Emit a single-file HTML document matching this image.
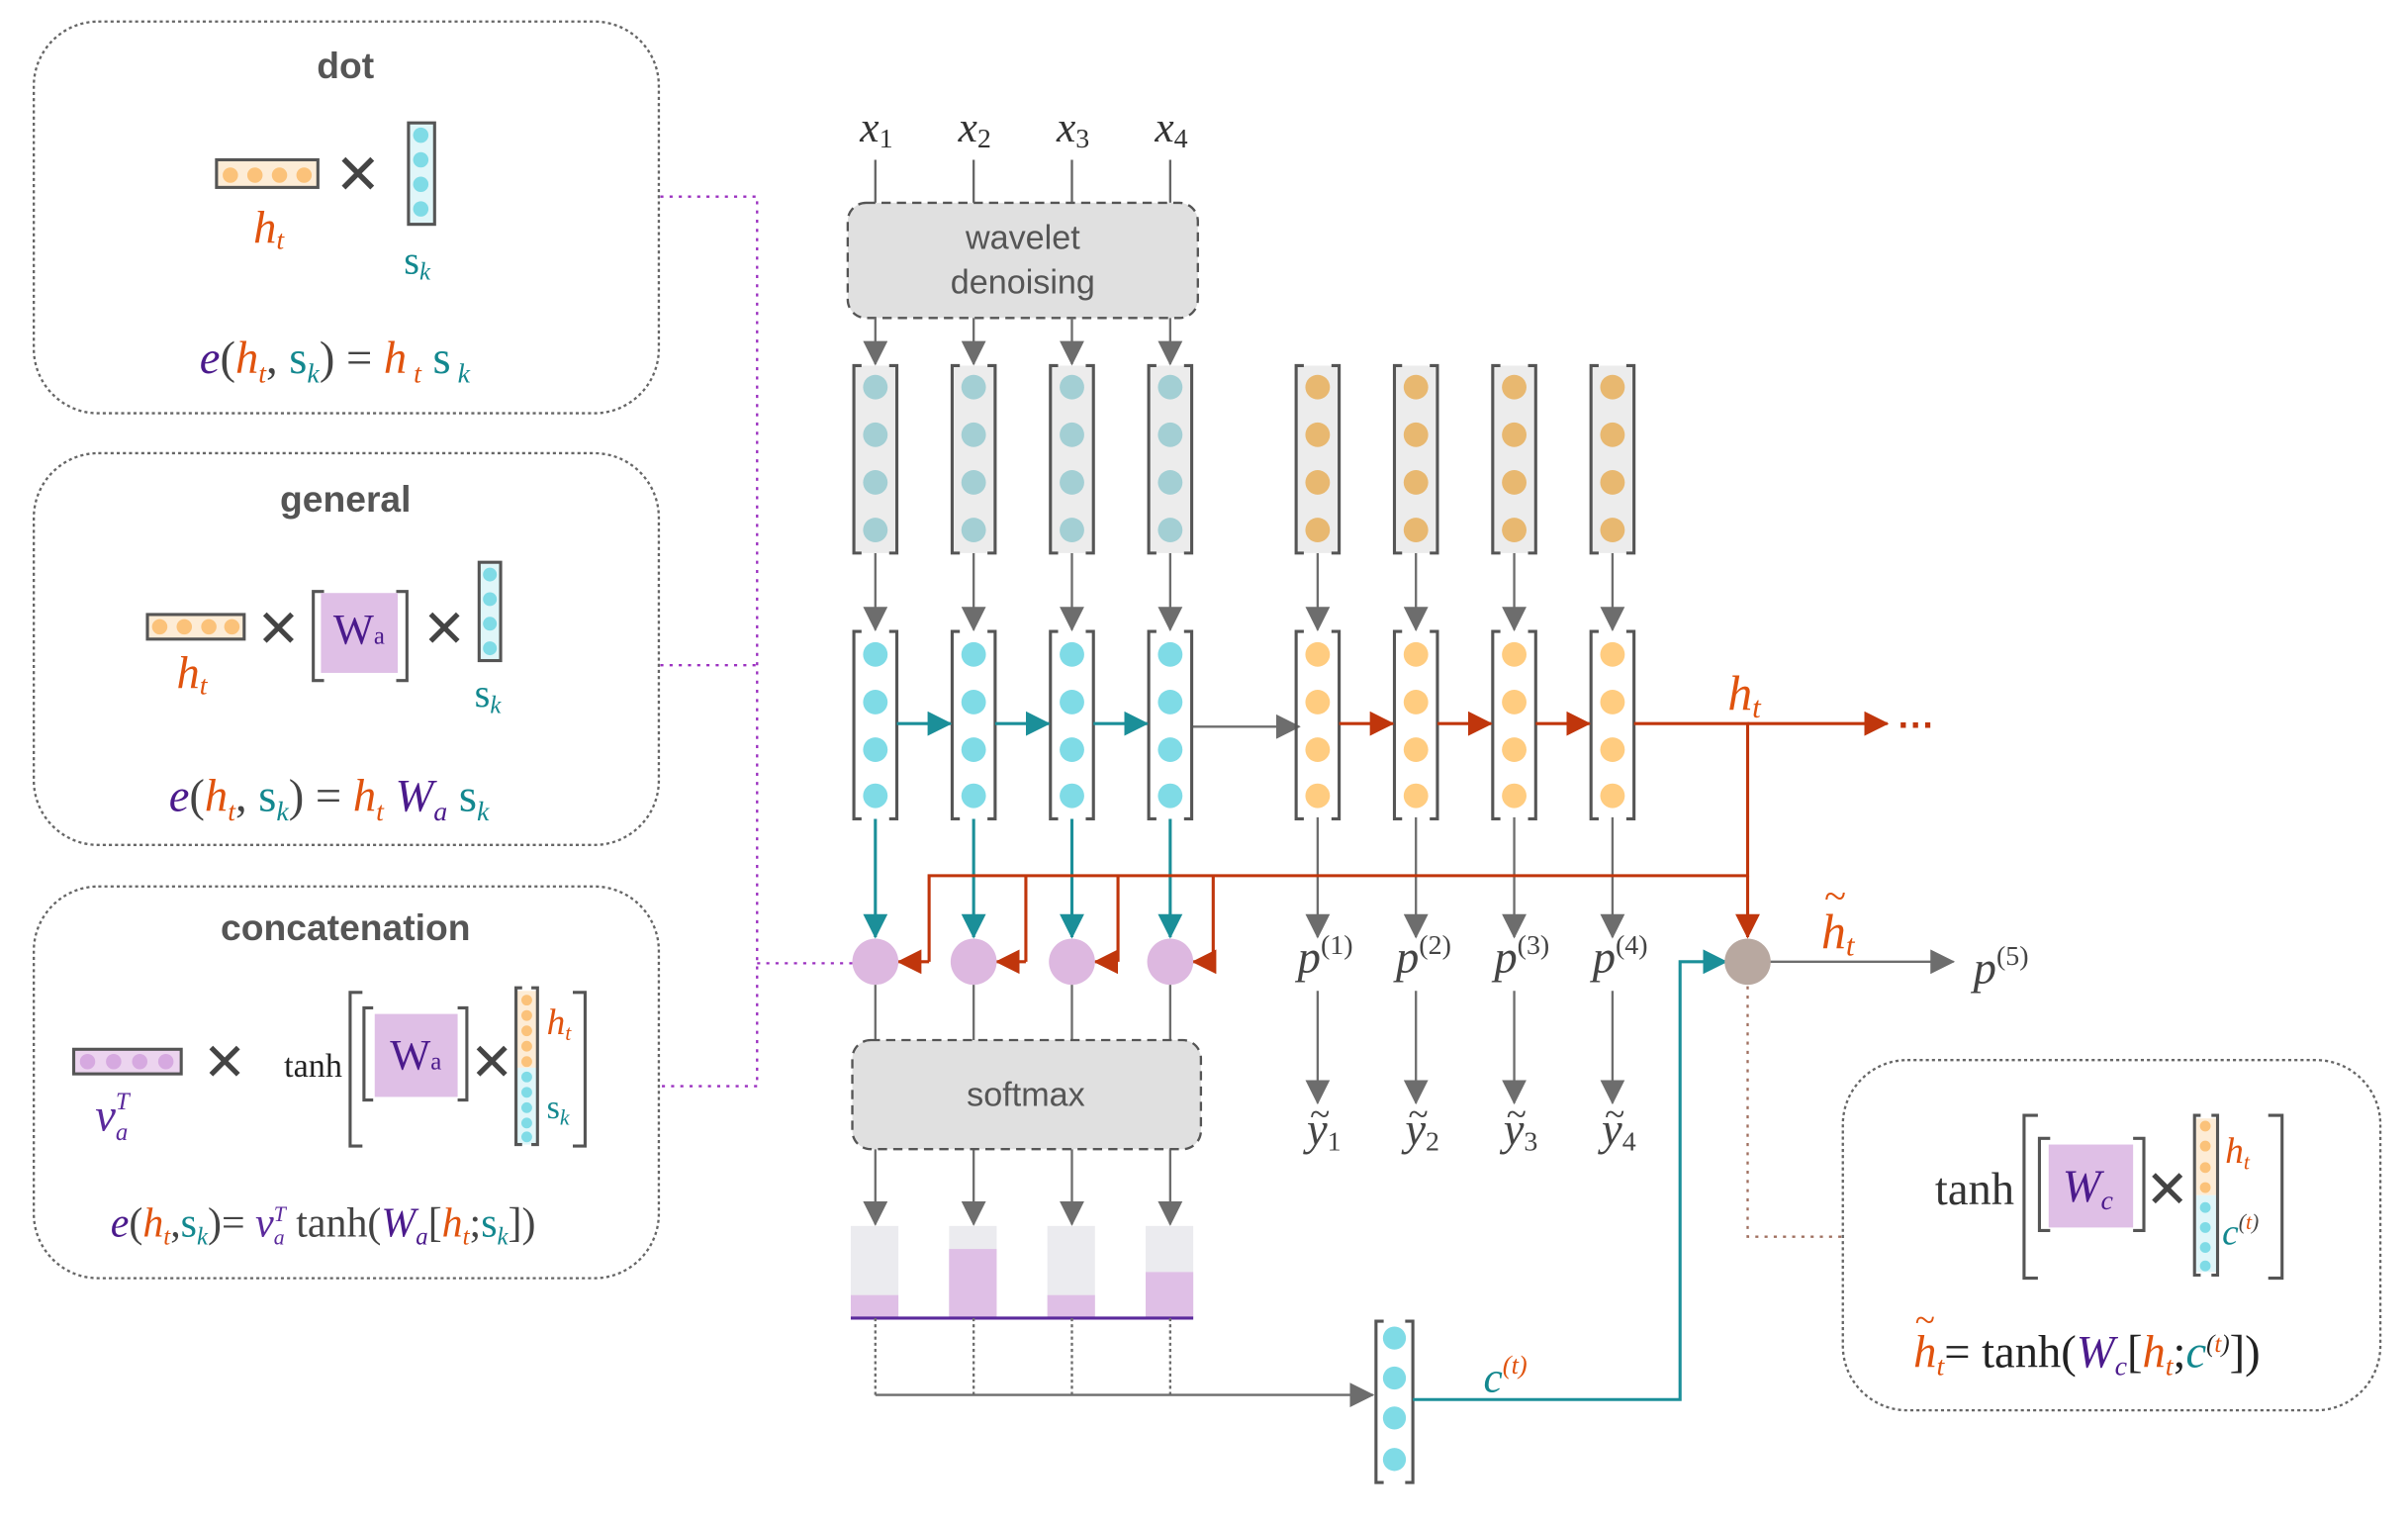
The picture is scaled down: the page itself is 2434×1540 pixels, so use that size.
<!DOCTYPE html>
<html><head><meta charset="utf-8"><style>
html,body{margin:0;padding:0;background:#fff}
svg{display:block}
.s{font-family:"Liberation Sans",sans-serif}
.m{font-family:"Liberation Serif",serif}
</style></head><body>
<svg width="2434" height="1540" viewBox="0 0 1568 992" preserveAspectRatio="none" xmlns="http://www.w3.org/2000/svg">
<defs>
<marker id="ag" markerWidth="10" markerHeight="10" refX="9" refY="5" orient="auto" markerUnits="userSpaceOnUse"><path d="M0,0 L10,5 L0,10z" fill="#6d6d6d"/></marker>
<marker id="agb" markerWidth="16" markerHeight="16" refX="15" refY="8" orient="auto" markerUnits="userSpaceOnUse"><path d="M0,0 L16,8 L0,16z" fill="#6d6d6d"/></marker>
<marker id="at" markerWidth="16" markerHeight="16" refX="15" refY="8" orient="auto" markerUnits="userSpaceOnUse"><path d="M0,0 L16,8 L0,16z" fill="#1b8f99"/></marker>
<marker id="ar" markerWidth="16" markerHeight="16" refX="15" refY="8" orient="auto" markerUnits="userSpaceOnUse"><path d="M0,0 L16,8 L0,16z" fill="#c0360c"/></marker>
</defs>
<g fill="none" stroke="#666" stroke-width="1.5" stroke-dasharray="2,2">
<rect x="22" y="14" width="407" height="255" rx="42"/>
<rect x="22" y="295" width="407" height="255" rx="42"/>
<rect x="22" y="577" width="407" height="255" rx="42"/>
<rect x="1200" y="690" width="350" height="228" rx="42"/>
</g>
<g fill="none" stroke="#9b30c0" stroke-width="1.5" stroke-dasharray="2,4">
<path d="M430,128 H493 V707 H430 M430,433 H493 M493,627 H555"/>
</g>
<path d="M1138,642 V805 H1200" fill="none" stroke="#a07060" stroke-width="1.5" stroke-dasharray="2,4"/>
<!-- box text -->
<g class="s" font-weight="bold" fill="#555" font-size="24" text-anchor="middle">
<text x="225" y="51">dot</text><text x="225" y="333">general</text><text x="225" y="612">concatenation</text>
</g>
<!-- dot box -->
<rect x="141" y="104" width="66" height="18" fill="#fdecd6" stroke="#555" stroke-width="2"/>
<g fill="#fbc27a"><circle cx="150" cy="114" r="5"/><circle cx="166" cy="114" r="5"/><circle cx="182" cy="114" r="5"/><circle cx="198" cy="114" r="5"/></g>
<text x="218" y="126" class="s" font-size="36" fill="#444">✕</text>
<rect x="266" y="80" width="17" height="66" fill="#e0f6f9" stroke="#555" stroke-width="2"/>
<g fill="#7fdbe6"><circle cx="274" cy="88" r="5"/><circle cx="274" cy="104" r="5"/><circle cx="274" cy="120" r="5"/><circle cx="274" cy="136" r="5"/></g>
<text x="165" y="158" class="m" font-style="italic" font-size="30" fill="#e0530e">h<tspan font-size="18" dy="4">t</tspan></text>
<text x="263" y="178" class="m" font-size="26" fill="#13888f">s<tspan font-style="italic" font-size="16" dy="4">k</tspan></text>
<text x="130" y="243" class="m" font-size="30"><tspan fill="#4b1a8c" font-style="italic">e</tspan><tspan fill="#444">(</tspan><tspan fill="#e0530e" font-style="italic">h<tspan font-size="18" dy="6">t</tspan></tspan><tspan fill="#444" dy="-6">, </tspan><tspan fill="#13888f">s<tspan font-style="italic" font-size="18" dy="6">k</tspan></tspan><tspan fill="#444" dy="-6">) = </tspan><tspan fill="#e0530e" font-style="italic">h<tspan font-size="18" dy="6"> t</tspan></tspan><tspan fill="#13888f" dy="-6"> s<tspan font-style="italic" font-size="18" dy="6"> k</tspan></tspan></text>
<!-- general -->
<rect x="96" y="400" width="63" height="16" fill="#fdecd6" stroke="#555" stroke-width="2"/>
<g fill="#fbc27a"><circle cx="104" cy="408" r="5"/><circle cx="120" cy="408" r="5"/><circle cx="136" cy="408" r="5"/><circle cx="151" cy="408" r="5"/></g>
<text x="167" y="421" class="s" font-size="34" fill="#444">✕</text>
<path d="M211,385 h-7 v58 h7 M258,385 h7 v58 h-7" fill="none" stroke="#555" stroke-width="2"/>
<rect x="209" y="386" width="50" height="52" fill="#dfbfe6"/>
<text x="217" y="419" class="m" font-size="28" fill="#4b1a8c">W<tspan font-size="16">a</tspan></text>
<text x="275" y="421" class="s" font-size="34" fill="#444">✕</text>
<rect x="312" y="366" width="14" height="64" fill="#e0f6f9" stroke="#555" stroke-width="2"/>
<g fill="#7fdbe6"><circle cx="319" cy="374" r="4.5"/><circle cx="319" cy="390" r="4.5"/><circle cx="319" cy="406" r="4.5"/><circle cx="319" cy="422" r="4.5"/></g>
<text x="115" y="448" class="m" font-style="italic" font-size="30" fill="#e0530e">h<tspan font-size="18" dy="4">t</tspan></text>
<text x="309" y="460" class="m" font-size="26" fill="#13888f">s<tspan font-style="italic" font-size="16" dy="4">k</tspan></text>
<text x="110" y="528" class="m" font-size="30"><tspan fill="#4b1a8c" font-style="italic">e</tspan><tspan fill="#444">(</tspan><tspan fill="#e0530e" font-style="italic">h<tspan font-size="18" dy="6">t</tspan></tspan><tspan fill="#444" dy="-6">, </tspan><tspan fill="#13888f">s<tspan font-style="italic" font-size="18" dy="6">k</tspan></tspan><tspan fill="#444" dy="-6">) = </tspan><tspan fill="#e0530e" font-style="italic">h<tspan font-size="18" dy="6">t</tspan></tspan><tspan fill="#4b1a8c" font-style="italic" dy="-6"> W<tspan font-size="18" dy="6">a</tspan></tspan><tspan fill="#13888f" dy="-6"> s<tspan font-style="italic" font-size="18" dy="6">k</tspan></tspan></text>
<!-- concatenation -->
<rect x="48" y="683" width="70" height="16" fill="#ecd4ef" stroke="#555" stroke-width="2"/>
<g fill="#d6a9e0"><circle cx="57" cy="691" r="5"/><circle cx="74" cy="691" r="5"/><circle cx="91" cy="691" r="5"/><circle cx="108" cy="691" r="5"/></g>
<text x="132" y="703" class="s" font-size="34" fill="#444">✕</text>
<text x="62" y="736" class="m" font-style="italic" font-size="30" fill="#5b2a9c">v<tspan font-size="16" dy="6">a</tspan><tspan font-size="16" dx="-8" dy="-20">T</tspan></text>
<text x="185" y="701" class="m" font-size="22" fill="#222">tanh</text>
<path d="M236,646 h-8 v100 h8 M373,646 h8 v100 h-8" fill="none" stroke="#555" stroke-width="2"/>
<path d="M243,656 h-6 v60 h6 M298,656 h6 v60 h-6" fill="none" stroke="#555" stroke-width="2"/>
<rect x="244" y="660" width="54" height="54" fill="#dfbfe6"/>
<text x="254" y="696" class="m" font-size="28" fill="#4b1a8c">W<tspan font-size="16">a</tspan></text>
<text x="306" y="703" class="s" font-size="34" fill="#444">✕</text>
<rect x="336" y="645" width="14" height="50" fill="#fdecd6"/>
<rect x="336" y="695" width="14" height="50" fill="#e0f6f9"/>
<path d="M340,643 h-4 v102 h4 M346,643 h4 v102 h-4" fill="none" stroke="#555" stroke-width="2"/>
<g fill="#fbc27a"><circle cx="343" cy="651" r="3.5"/><circle cx="343" cy="661" r="3.5"/><circle cx="343" cy="671" r="3.5"/><circle cx="343" cy="681" r="3.5"/><circle cx="343" cy="691" r="3.5"/></g>
<g fill="#7fdbe6"><circle cx="343" cy="701" r="3.5"/><circle cx="343" cy="711" r="3.5"/><circle cx="343" cy="721" r="3.5"/><circle cx="343" cy="731" r="3.5"/><circle cx="343" cy="740" r="3.5"/></g>
<text x="356" y="673" class="m" font-style="italic" font-size="24" fill="#e0530e">h<tspan font-size="14" dy="4">t</tspan></text>
<text x="356" y="728" class="m" font-size="22" fill="#13888f">s<tspan font-style="italic" font-size="14" dy="4">k</tspan></text>
<text x="72" y="805" class="m" font-size="27"><tspan fill="#4b1a8c" font-style="italic">e</tspan><tspan fill="#444">(</tspan><tspan fill="#e0530e" font-style="italic">h<tspan font-size="16" dy="5">t</tspan></tspan><tspan fill="#444" dy="-5">,</tspan><tspan fill="#13888f">s<tspan font-style="italic" font-size="16" dy="5">k</tspan></tspan><tspan fill="#444" dy="-5">)= </tspan><tspan fill="#5b2a9c" font-style="italic">v<tspan font-size="14" dy="5">a</tspan><tspan font-size="14" dx="-7" dy="-15">T</tspan></tspan><tspan fill="#444" dy="10"> tanh(</tspan><tspan fill="#4b1a8c" font-style="italic">W<tspan font-size="16" dy="5">a</tspan></tspan><tspan fill="#444" dy="-5">[</tspan><tspan fill="#e0530e" font-style="italic">h<tspan font-size="16" dy="5">t</tspan></tspan><tspan fill="#444" dy="-5">;</tspan><tspan fill="#13888f">s<tspan font-style="italic" font-size="16" dy="5">k</tspan></tspan><tspan fill="#444" dy="-5">])</tspan></text>

<!-- inputs -->
<g class="m" font-style="italic" font-size="28" fill="#333">
<text x="560" y="92">x<tspan font-style="normal" font-size="18" dy="4">1</tspan></text>
<text x="624" y="92">x<tspan font-style="normal" font-size="18" dy="4">2</tspan></text>
<text x="688" y="92">x<tspan font-style="normal" font-size="18" dy="4">3</tspan></text>
<text x="752" y="92">x<tspan font-style="normal" font-size="18" dy="4">4</tspan></text>
</g>
<g stroke="#666" stroke-width="1.5"><path d="M570,104 V132 M634,104 V132 M698,104 V132 M762,104 V132"/></g>
<rect x="552" y="132" width="228" height="75" rx="12" fill="#e0e0e0" stroke="#555" stroke-width="1.5" stroke-dasharray="6,4"/>
<text x="666" y="162" text-anchor="middle" class="s" font-size="22" fill="#555">wavelet</text>
<text x="666" y="191" text-anchor="middle" class="s" font-size="22" fill="#555">denoising</text>
<g stroke="#6d6d6d" stroke-width="1.5" marker-end="url(#agb)">
<path d="M570,207 V237"/><path d="M634,207 V237"/><path d="M698,207 V237"/><path d="M762,207 V237"/>
<path d="M570,360 V410"/><path d="M634,360 V410"/><path d="M698,360 V410"/><path d="M762,360 V410"/>
<path d="M858,360 V410"/><path d="M922,360 V410"/><path d="M986,360 V410"/><path d="M1050,360 V410"/>
<path d="M858,532 V610"/><path d="M922,532 V610"/><path d="M986,532 V610"/><path d="M1050,532 V610"/>
<path d="M858,645 V718"/><path d="M922,645 V718"/><path d="M986,645 V718"/><path d="M1050,645 V718"/>
<path d="M570,748 V797"/><path d="M634,748 V797"/><path d="M698,748 V797"/><path d="M762,748 V797"/>
<path d="M776,473 H846"/>
<path d="M1152,626 H1272"/>
</g>
<!-- columns -->
<g id="cols">
<g fill="#ececec"><rect x="556" y="238" width="28" height="122"/><rect x="620" y="238" width="28" height="122"/><rect x="684" y="238" width="28" height="122"/><rect x="748" y="238" width="28" height="122"/>
<rect x="844" y="238" width="28" height="122"/><rect x="908" y="238" width="28" height="122"/><rect x="972" y="238" width="28" height="122"/><rect x="1036" y="238" width="28" height="122"/></g>
<g fill="none" stroke="#555" stroke-width="2">
<path d="M561,238 h-5 v122 h5 M579,238 h5 v122 h-5"/><path d="M625,238 h-5 v122 h5 M643,238 h5 v122 h-5"/><path d="M689,238 h-5 v122 h5 M707,238 h5 v122 h-5"/><path d="M753,238 h-5 v122 h5 M771,238 h5 v122 h-5"/>
<path d="M849,238 h-5 v122 h5 M867,238 h5 v122 h-5"/><path d="M913,238 h-5 v122 h5 M931,238 h5 v122 h-5"/><path d="M977,238 h-5 v122 h5 M995,238 h5 v122 h-5"/><path d="M1041,238 h-5 v122 h5 M1059,238 h5 v122 h-5"/>
<path d="M561,411 h-5 v122 h5 M579,411 h5 v122 h-5"/><path d="M625,411 h-5 v122 h5 M643,411 h5 v122 h-5"/><path d="M689,411 h-5 v122 h5 M707,411 h5 v122 h-5"/><path d="M753,411 h-5 v122 h5 M771,411 h5 v122 h-5"/>
<path d="M849,411 h-5 v122 h5 M867,411 h5 v122 h-5"/><path d="M913,411 h-5 v122 h5 M931,411 h5 v122 h-5"/><path d="M977,411 h-5 v122 h5 M995,411 h5 v122 h-5"/><path d="M1041,411 h-5 v122 h5 M1059,411 h5 v122 h-5"/>
<path d="M901,860 h-5 v105 h5 M915,860 h5 v105 h-5"/>
</g>
</g>
<g fill="#a3cfd4">
<circle cx="570" cy="252" r="8"/><circle cx="570" cy="283" r="8"/><circle cx="570" cy="314" r="8"/><circle cx="570" cy="345" r="8"/>
<circle cx="634" cy="252" r="8"/><circle cx="634" cy="283" r="8"/><circle cx="634" cy="314" r="8"/><circle cx="634" cy="345" r="8"/>
<circle cx="698" cy="252" r="8"/><circle cx="698" cy="283" r="8"/><circle cx="698" cy="314" r="8"/><circle cx="698" cy="345" r="8"/>
<circle cx="762" cy="252" r="8"/><circle cx="762" cy="283" r="8"/><circle cx="762" cy="314" r="8"/><circle cx="762" cy="345" r="8"/>
</g>
<g fill="#e8b870">
<circle cx="858" cy="252" r="8"/><circle cx="858" cy="283" r="8"/><circle cx="858" cy="314" r="8"/><circle cx="858" cy="345" r="8"/>
<circle cx="922" cy="252" r="8"/><circle cx="922" cy="283" r="8"/><circle cx="922" cy="314" r="8"/><circle cx="922" cy="345" r="8"/>
<circle cx="986" cy="252" r="8"/><circle cx="986" cy="283" r="8"/><circle cx="986" cy="314" r="8"/><circle cx="986" cy="345" r="8"/>
<circle cx="1050" cy="252" r="8"/><circle cx="1050" cy="283" r="8"/><circle cx="1050" cy="314" r="8"/><circle cx="1050" cy="345" r="8"/>
</g>
<g fill="#7fdbe6">
<circle cx="570" cy="426" r="8"/><circle cx="570" cy="457" r="8"/><circle cx="570" cy="488" r="8"/><circle cx="570" cy="518" r="8"/>
<circle cx="634" cy="426" r="8"/><circle cx="634" cy="457" r="8"/><circle cx="634" cy="488" r="8"/><circle cx="634" cy="518" r="8"/>
<circle cx="698" cy="426" r="8"/><circle cx="698" cy="457" r="8"/><circle cx="698" cy="488" r="8"/><circle cx="698" cy="518" r="8"/>
<circle cx="762" cy="426" r="8"/><circle cx="762" cy="457" r="8"/><circle cx="762" cy="488" r="8"/><circle cx="762" cy="518" r="8"/>
<circle cx="908" cy="871" r="7.5"/><circle cx="908" cy="897" r="7.5"/><circle cx="908" cy="923" r="7.5"/><circle cx="908" cy="950" r="7.5"/>
</g>
<g fill="#ffcc80">
<circle cx="858" cy="426" r="8"/><circle cx="858" cy="457" r="8"/><circle cx="858" cy="488" r="8"/><circle cx="858" cy="518" r="8"/>
<circle cx="922" cy="426" r="8"/><circle cx="922" cy="457" r="8"/><circle cx="922" cy="488" r="8"/><circle cx="922" cy="518" r="8"/>
<circle cx="986" cy="426" r="8"/><circle cx="986" cy="457" r="8"/><circle cx="986" cy="488" r="8"/><circle cx="986" cy="518" r="8"/>
<circle cx="1050" cy="426" r="8"/><circle cx="1050" cy="457" r="8"/><circle cx="1050" cy="488" r="8"/><circle cx="1050" cy="518" r="8"/>
</g>
<!-- teal arrows -->
<g stroke="#1b8f99" stroke-width="2" fill="none" marker-end="url(#at)">
<path d="M584,471 H619"/><path d="M648,471 H683"/><path d="M712,471 H747"/>
<path d="M570,533 V610"/><path d="M634,533 V610"/><path d="M698,533 V610"/><path d="M762,533 V610"/>
<path d="M920,911 H1094 V626 H1124"/>
</g>
<!-- red -->
<g stroke="#c0360c" stroke-width="2" fill="none">
<path d="M1064,471 H1138 V570 H605 V626 M668,570 V626 M728,570 V626 M790,570 V626"/>
</g>
<g stroke="#c0360c" stroke-width="2" fill="none" marker-end="url(#ar)">
<path d="M872,471 H907"/><path d="M936,471 H971"/><path d="M1000,471 H1035"/>
<path d="M1138,471 H1229"/><path d="M1138,570 V610"/>
<path d="M605,626 H585"/><path d="M668,626 H649"/><path d="M728,626 H713"/><path d="M790,626 H777"/>
</g>
<text x="1236" y="480" class="s" font-weight="bold" font-size="24" fill="#c0360c">···</text>
<text x="1125" y="462" class="m" font-style="italic" font-size="32" fill="#e0530e">h<tspan font-size="20" dy="5">t</tspan></text>
<!-- attention circles -->
<g fill="#ddb8e0"><circle cx="570" cy="626" r="15"/><circle cx="634" cy="626" r="15"/><circle cx="698" cy="626" r="15"/><circle cx="762" cy="626" r="15"/></g>
<circle cx="1138" cy="626" r="15" fill="#b8a8a0"/>
<g stroke="#6d6d6d" stroke-width="1.5"><path d="M570,641 V677 M634,641 V677 M698,641 V677 M762,641 V677"/></g>
<rect x="555" y="677" width="227" height="71" rx="12" fill="#e0e0e0" stroke="#555" stroke-width="1.5" stroke-dasharray="6,4"/>
<text x="668" y="720" text-anchor="middle" class="s" font-size="22" fill="#555">softmax</text>
<!-- bars -->
<g fill="#ebebef"><rect x="554" y="798" width="31" height="60"/><rect x="618" y="798" width="31" height="60"/><rect x="682" y="798" width="31" height="60"/><rect x="746" y="798" width="31" height="60"/></g>
<g fill="#dfbfe6"><rect x="554" y="843" width="31" height="15"/><rect x="618" y="813" width="31" height="45"/><rect x="682" y="843" width="31" height="15"/><rect x="746" y="828" width="31" height="30"/></g>
<path d="M554,858 H777" stroke="#5b2a9c" stroke-width="2"/>
<g stroke="#6d6d6d" stroke-width="1.5" stroke-dasharray="2,2" fill="none"><path d="M570,858 V908 M634,858 V908 M698,858 V908 M762,858 V908"/></g>
<path d="M570,908 H894" stroke="#6d6d6d" stroke-width="1.5" marker-end="url(#agb)"/>
<text x="966" y="906" class="m" font-style="italic" font-size="28" fill="#13888f">c<tspan font-style="italic" font-size="17" dy="-12" fill="#e0530e">(t)</tspan></text>
<!-- p labels -->
<g class="m" font-style="italic" font-size="30" fill="#444">
<text x="845" y="633">p<tspan font-style="normal" font-size="18" dy="-12">(1)</tspan></text>
<text x="909" y="633">p<tspan font-style="normal" font-size="18" dy="-12">(2)</tspan></text>
<text x="973" y="633">p<tspan font-style="normal" font-size="18" dy="-12">(3)</tspan></text>
<text x="1037" y="633">p<tspan font-style="normal" font-size="18" dy="-12">(4)</tspan></text>
<text x="1285" y="640">p<tspan font-style="normal" font-size="18" dy="-12">(5)</tspan></text>
<text x="851" y="745">y<tspan font-style="normal" font-size="18" dy="4">1</tspan></text>
<text x="915" y="745">y<tspan font-style="normal" font-size="18" dy="4">2</tspan></text>
<text x="979" y="745">y<tspan font-style="normal" font-size="18" dy="4">3</tspan></text>
<text x="1043" y="745">y<tspan font-style="normal" font-size="18" dy="4">4</tspan></text>
</g>
<g class="m" font-size="24" fill="#444"><text x="853" y="733">~</text><text x="917" y="733">~</text><text x="981" y="733">~</text><text x="1045" y="733">~</text></g>
<text x="1186" y="617" class="m" font-style="italic" font-size="32" fill="#e0530e">h<tspan font-size="20" dy="5">t</tspan></text>
<text x="1188" y="592" class="m" font-size="26" fill="#e0530e">~</text>
<!-- right box -->
<text x="1260" y="784" class="m" font-size="30" fill="#333">tanh</text>
<path d="M1327,726 h-9 v106 h9 M1477,726 h9 v106 h-9" fill="none" stroke="#555" stroke-width="2"/>
<path d="M1335,741 h-7 v60 h7 M1389,741 h7 v60 h-7" fill="none" stroke="#555" stroke-width="2"/>
<rect x="1334" y="745" width="55" height="54" fill="#dfbfe6"/>
<text x="1343" y="782" class="m" font-style="italic" font-size="30" fill="#4b1a8c">W<tspan font-size="18" dy="5">c</tspan></text>
<text x="1397" y="786" class="s" font-size="34" fill="#444">✕</text>
<rect x="1430" y="728" width="13" height="50" fill="#fdecd6"/>
<rect x="1430" y="778" width="13" height="50" fill="#e0f6f9"/>
<path d="M1433,726 h-4 v104 h4 M1440,726 h4 v104 h-4" fill="none" stroke="#555" stroke-width="2"/>
<g fill="#fbc27a"><circle cx="1436" cy="733" r="3.5"/><circle cx="1436" cy="746" r="3.5"/><circle cx="1436" cy="760" r="3.5"/><circle cx="1436" cy="773" r="3.5"/></g>
<g fill="#7fdbe6"><circle cx="1436" cy="786" r="3.5"/><circle cx="1436" cy="799" r="3.5"/><circle cx="1436" cy="812" r="3.5"/><circle cx="1436" cy="824" r="3.5"/></g>
<text x="1449" y="757" class="m" font-style="italic" font-size="24" fill="#e0530e">h<tspan font-size="14" dy="4">t</tspan></text>
<text x="1447" y="810" class="m" font-style="italic" font-size="24" fill="#13888f">c<tspan font-size="14" dy="-10" fill="#444">(<tspan fill="#e0530e">t</tspan>)</tspan></text>
<text x="1246" y="890" class="m" font-size="30"><tspan fill="#e0530e" font-style="italic">h<tspan font-size="18" dy="5">t</tspan></tspan><tspan fill="#222" dy="-5">= tanh(</tspan><tspan fill="#4b1a8c" font-style="italic">W<tspan font-size="18" dy="5">c</tspan></tspan><tspan fill="#222" dy="-5">[</tspan><tspan fill="#e0530e" font-style="italic">h<tspan font-size="18" dy="5">t</tspan></tspan><tspan fill="#222" dy="-5">;</tspan><tspan fill="#13888f" font-style="italic">c<tspan font-size="16" dy="-10" fill="#222">(<tspan fill="#e0530e">t</tspan>)</tspan></tspan><tspan fill="#222" dy="10">])</tspan></text>
<text x="1247" y="867" class="m" font-size="24" fill="#e0530e">~</text>
</svg>
</body></html>
